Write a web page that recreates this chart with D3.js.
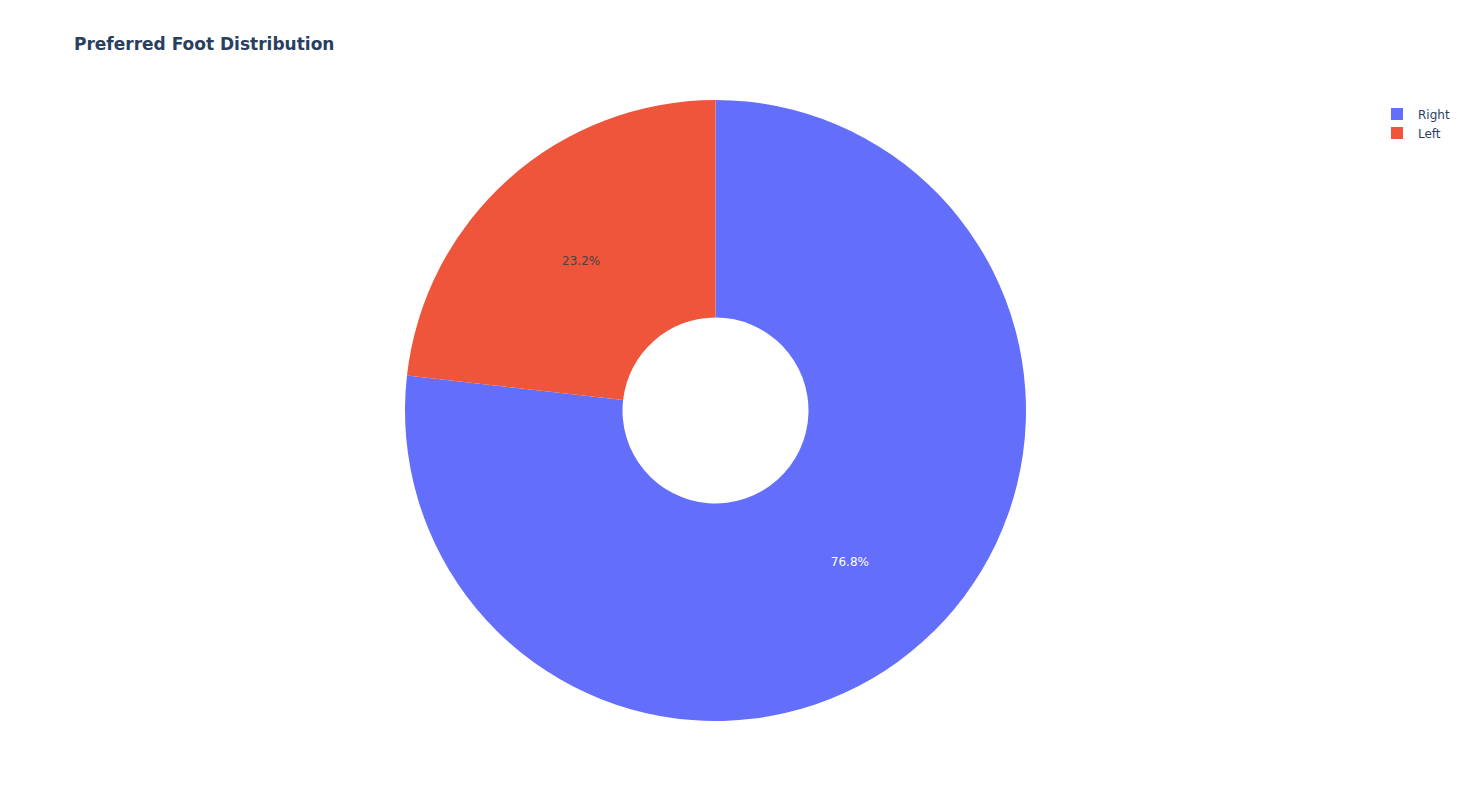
<!DOCTYPE html>
<html>
<head>
<meta charset="utf-8">
<style>
  body { margin: 0; background: #fff; }
  text { font-family: "DejaVu Sans", verdana, arial, sans-serif; }
</style>
<script src="https://d3js.org/d3.v7.min.js"></script>
</head>
<body>
<div id="chart"></div>
<script>
// data
var categories = ["Right", "Left"];
var shares = [76.8, 23.2];
var colors = ["#636efa", "#ef553b"];
var labelColors = ["#ffffff", "#444444"];

var width = 1465, height = 801;
var cx = 715.5, cy = 410.5;
var outerR = 310.5, innerR = 93;

var svg = d3.select("#chart").append("svg")
    .attr("width", width)
    .attr("height", height);

// title
svg.append("text")
    .attr("x", 74)
    .attr("y", 50)
    .style("font-size", "17px")
    .style("font-weight", "bold")
    .style("fill", "#2a3f5f")
    .text("Preferred Foot Distribution");

var data = categories.map(function(c, i) {
    return {name: c, value: shares[i], color: colors[i], label: labelColors[i]};
});

var pie = d3.pie()
    .sort(null)
    .value(function(d) { return d.value; });

var arc = d3.arc()
    .innerRadius(innerR)
    .outerRadius(outerR);

var g = svg.append("g")
    .attr("transform", "translate(" + cx + "," + cy + ")");

g.selectAll("path")
    .data(pie(data))
    .enter()
    .append("path")
    .attr("d", arc)
    .attr("fill", function(d) { return d.data.color; });

// percentage labels at ring midpoints
g.selectAll(".lbl")
    .data(pie(data))
    .enter()
    .append("text")
    .attr("class", "lbl")
    .attr("transform", function(d) { return "translate(" + arc.centroid(d) + ")"; })
    .attr("text-anchor", "middle")
    .attr("dy", "0.45em")
    .style("font-size", "12px")
    .style("fill", function(d) { return d.data.label; })
    .text(function(d) { return d.data.value.toFixed(1) + "%"; });

// legend
var legend = svg.append("g")
    .attr("transform", "translate(1391,108)");

var item = legend.selectAll("g")
    .data(data)
    .enter()
    .append("g")
    .attr("transform", function(d, i) { return "translate(0," + (i * 19) + ")"; });

item.append("rect")
    .attr("width", 12)
    .attr("height", 12)
    .attr("fill", function(d) { return d.color; });

item.append("text")
    .attr("x", 27)
    .attr("y", 10.5)
    .style("font-size", "12px")
    .style("fill", "#2a3f5f")
    .text(function(d) { return d.name; });
</script>
</body>
</html>
